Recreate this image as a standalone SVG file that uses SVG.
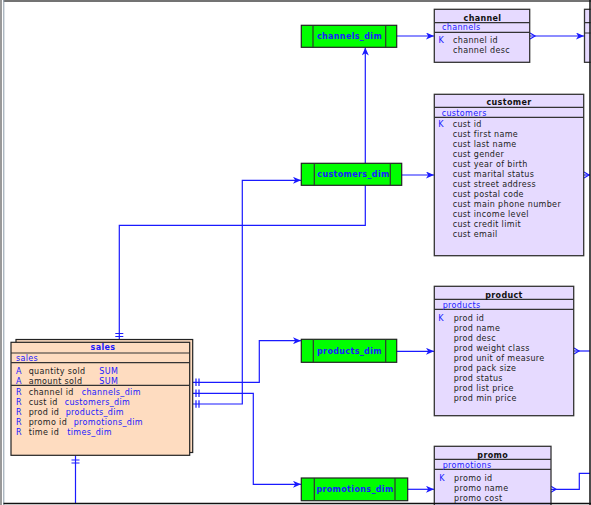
<svg xmlns="http://www.w3.org/2000/svg" width="591" height="505" viewBox="0 0 591 505">
<defs>
<style>
.ent{fill:#e6daff;stroke:#333;stroke-width:1.3}
.sal{fill:#fedcc0;stroke:#222;stroke-width:1.2}
.dim{fill:#00ff00;stroke:#222;stroke-width:1.2}
.sep{stroke:#333;stroke-width:1.2}
.t{font-family:"DejaVu Sans",sans-serif;font-size:8px;fill:#222;letter-spacing:0.35px}
.b{font-family:"DejaVu Sans",sans-serif;font-size:8px;fill:#1a1aff;letter-spacing:0.35px}
.tb{font-family:"DejaVu Sans",sans-serif;font-size:8px;font-weight:bold;fill:#111;text-anchor:middle;letter-spacing:0.35px}
.db{font-family:"DejaVu Sans",sans-serif;font-size:8px;font-weight:bold;fill:#1a1aff;text-anchor:middle;letter-spacing:0.35px}
.c{fill:none;stroke:#1a1aff;stroke-width:1.2}
</style>
<marker id="ar" viewBox="0 0 8 7" markerWidth="8" markerHeight="7" refX="8" refY="3.5" orient="auto" markerUnits="userSpaceOnUse">
<path d="M0,0 L8,3.5 L0,7 L2.2,3.5 z" fill="#1a1aff"/>
</marker>
</defs>
<rect width="591" height="505" fill="#fff"/>

<g id="connectors">
<path class="c" d="M397,36 H434" marker-end="url(#ar)"/>
<path class="c" d="M530,36 H584" marker-end="url(#ar)"/>
<path class="c" d="M530,33 L535,36 L530,39"/>
<path class="c" d="M365.3,163.3 V47.5" marker-end="url(#ar)"/>
<path class="c" d="M401.7,175 H434" marker-end="url(#ar)"/>
<path class="c" d="M584,172 L589,175 L584,178"/>
<path class="c" d="M584,175 H590"/>
<path class="c" d="M365.3,185.3 V225.3 H119.3 V340"/>
<path class="c" d="M115.3,333.5 H123.3 M115.3,336.5 H123.3"/>
<path class="c" d="M396.7,351.3 H434" marker-end="url(#ar)"/>
<path class="c" d="M574,348 L579,351 L574,354"/>
<path class="c" d="M574,351 H590"/>
<path class="c" d="M193,382.3 H259.3 V340.7 H301" marker-end="url(#ar)"/>
<path class="c" d="M193,393.3 H253.3 V484.3 H301" marker-end="url(#ar)"/>
<path class="c" d="M193,404 H242.3 V180.3 H301" marker-end="url(#ar)"/>
<path class="c" d="M196,378.5 V386 M199,378.5 V386 M196,389.5 V397 M199,389.5 V397 M196,400.2 V407.8 M199,400.2 V407.8"/>
<path class="c" d="M407.7,489.3 H434" marker-end="url(#ar)"/>
<path class="c" d="M551,486.3 L556,489.3 L551,492.3"/>
<path class="c" d="M551,489.3 H579.3 V473.3 H590"/>
<path class="c" d="M75.5,455.5 V503"/>
<path class="c" d="M71.5,460 H79.5 M71.5,463 H79.5"/>
</g>

<g id="channels_dim">
<rect class="dim" x="301.3" y="25.3" width="95.4" height="22"/>
<path class="sep" d="M313,25.3 V47.3 M385.7,25.3 V47.3"/>
<text class="db" x="349.5" y="39">channels_dim</text>
</g>

<g id="customers_dim">
<rect class="dim" x="301.3" y="163.3" width="100.4" height="22"/>
<path class="sep" d="M314.3,163.3 V185.3 M390.3,163.3 V185.3"/>
<text class="db" x="353.5" y="177">customers_dim</text>
</g>

<g id="products_dim">
<rect class="dim" x="301.3" y="339.3" width="95.4" height="23"/>
<path class="sep" d="M313.3,339.3 V362.3 M385.7,339.3 V362.3"/>
<text class="db" x="349.5" y="354">products_dim</text>
</g>

<g id="promotions_dim">
<rect class="dim" x="301.3" y="478" width="106.4" height="22.7"/>
<path class="sep" d="M314.3,478 V500.7 M395,478 V500.7"/>
<text class="db" x="355" y="492">promotions_dim</text>
</g>

<g id="channel">
<rect class="ent" x="434.3" y="9.3" width="95.4" height="53"/>
<path class="sep" d="M434.3,22.7 H529.7 M434.3,32.3 H529.7"/>
<text class="tb" x="482.5" y="20.5">channel</text>
<text class="b" x="442" y="30">channels</text>
<text class="b" x="438.5" y="43.3">K</text>
<text class="t" x="453" y="43.3">channel id</text>
<text class="t" x="453" y="53.3">channel desc</text>
</g>

<g id="right_entity">
<rect class="ent" x="584.5" y="9.3" width="12" height="53"/>
<path class="sep" d="M584.5,22.7 H591 M584.5,33 H591"/>
</g>

<g id="customer">
<rect class="ent" x="434.3" y="94.3" width="149.4" height="161.4"/>
<path class="sep" d="M434.3,107.3 H583.7 M434.3,117.3 H583.7"/>
<text class="tb" x="509" y="104.7">customer</text>
<text class="b" x="441.7" y="115.5">customers</text>
<text class="b" x="438.3" y="127.3">K</text>
<text class="t" x="452.7" y="127.3">cust id</text>
<text class="t" x="452.7" y="137.3">cust first name</text>
<text class="t" x="452.7" y="147.3">cust last name</text>
<text class="t" x="452.7" y="157.3">cust gender</text>
<text class="t" x="452.7" y="167.3">cust year of birth</text>
<text class="t" x="452.7" y="177.3">cust marital status</text>
<text class="t" x="452.7" y="187.3">cust street address</text>
<text class="t" x="452.7" y="197.3">cust postal code</text>
<text class="t" x="452.7" y="207.3">cust main phone number</text>
<text class="t" x="452.7" y="217.3">cust income level</text>
<text class="t" x="452.7" y="227.3">cust credit limit</text>
<text class="t" x="452.7" y="237.3">cust email</text>
</g>

<g id="product">
<rect class="ent" x="434.3" y="286.3" width="139.4" height="129.4"/>
<path class="sep" d="M434.3,299.3 H573.7 M434.3,309.3 H573.7"/>
<text class="tb" x="504" y="297.7">product</text>
<text class="b" x="442.7" y="307.5">products</text>
<text class="b" x="438.3" y="320.7">K</text>
<text class="t" x="453.7" y="320.7">prod id</text>
<text class="t" x="453.7" y="330.7">prod name</text>
<text class="t" x="453.7" y="340.7">prod desc</text>
<text class="t" x="453.7" y="350.7">prod weight class</text>
<text class="t" x="453.7" y="360.7">prod unit of measure</text>
<text class="t" x="453.7" y="370.7">prod pack size</text>
<text class="t" x="453.7" y="380.7">prod status</text>
<text class="t" x="453.7" y="390.7">prod list price</text>
<text class="t" x="453.7" y="400.7">prod min price</text>
</g>

<g id="promo">
<rect class="ent" x="434.3" y="446.3" width="116.7" height="70"/>
<path class="sep" d="M434.3,459.3 H551 M434.3,469.3 H551"/>
<text class="tb" x="492.7" y="457.7">promo</text>
<text class="b" x="442.7" y="467.5">promotions</text>
<text class="b" x="439.3" y="480.7">K</text>
<text class="t" x="454" y="480.7">promo id</text>
<text class="t" x="454" y="490.7">promo name</text>
<text class="t" x="454" y="500.7">promo cost</text>
</g>

<g id="sales">
<rect class="sal" x="16" y="339.5" width="176.7" height="113"/>
<rect class="sal" x="11" y="342.3" width="178.7" height="113"/>
<path class="sep" d="M11,353 H189.7 M11,362.7 H189.7 M11,385.3 H189.7"/>
<text class="db" x="103" y="350.3">sales</text>
<text class="b" x="16" y="360.5">sales</text>
<text class="b" x="16" y="373.7">A</text>
<text class="t" x="28.7" y="373.7">quantity sold</text>
<text class="b" x="99.3" y="373.7">SUM</text>
<text class="b" x="16" y="383.7">A</text>
<text class="t" x="28.7" y="383.7">amount sold</text>
<text class="b" x="99.3" y="383.7">SUM</text>
<text class="b" x="16" y="395.3">R</text>
<text class="t" x="28.7" y="395.3">channel id</text>
<text class="b" x="81.7" y="395.3">channels_dim</text>
<text class="b" x="16" y="405.3">R</text>
<text class="t" x="28.7" y="405.3">cust id</text>
<text class="b" x="64.7" y="405.3">customers_dim</text>
<text class="b" x="16" y="415.3">R</text>
<text class="t" x="28.7" y="415.3">prod id</text>
<text class="b" x="65.7" y="415.3">products_dim</text>
<text class="b" x="16" y="425.3">R</text>
<text class="t" x="28.7" y="425.3">promo id</text>
<text class="b" x="73.7" y="425.3">promotions_dim</text>
<text class="b" x="16" y="435.3">R</text>
<text class="t" x="28.7" y="435.3">time id</text>
<text class="b" x="67.3" y="435.3">times_dim</text>
</g>

<g id="frame">
<rect x="590.6" y="0" width="1" height="505" fill="#fff"/>
<path d="M3.5,1 H591" stroke="#444" stroke-width="1.5" fill="none"/>
<path d="M1,0 V505" stroke="#555" stroke-width="1.2" fill="none"/>
<path d="M3.8,0 V505" stroke="#8a9aa8" stroke-width="1" fill="none"/>
<path d="M590,0 V505" stroke="#111" stroke-width="1.5" fill="none"/>
<path d="M3.5,503.5 H591" stroke="#111" stroke-width="1.5" fill="none"/>
</g>
</svg>
